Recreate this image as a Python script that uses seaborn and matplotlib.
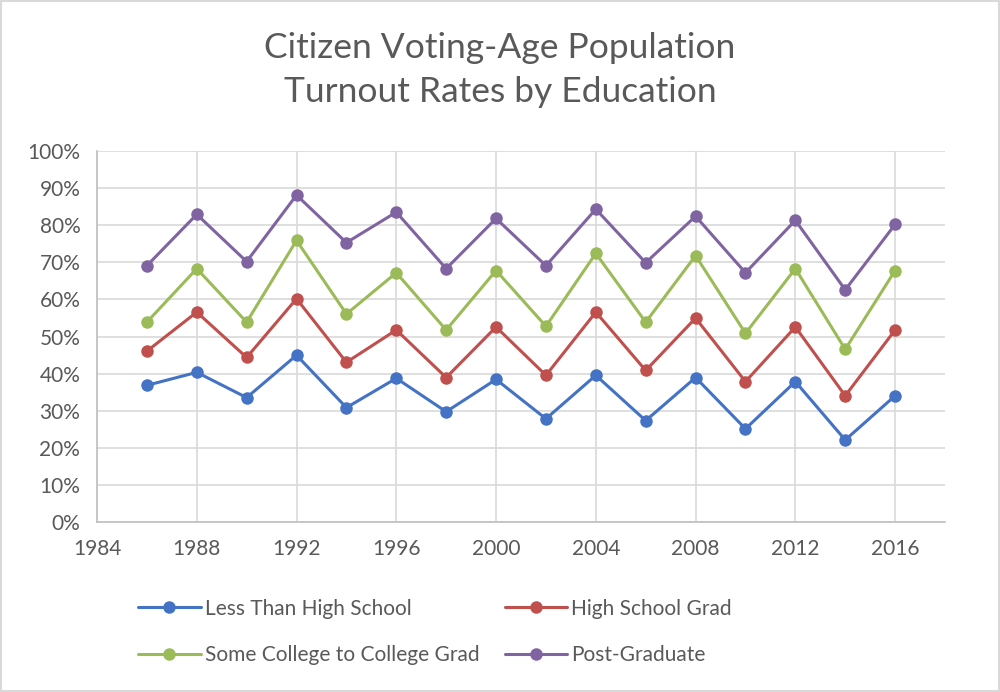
import matplotlib
matplotlib.use("Agg")
import matplotlib.pyplot as plt
import matplotlib.ticker as mticker
import seaborn as sns
import pandas as pd

# data (percent)
years = [1986, 1988, 1990, 1992, 1994, 1996, 1998, 2000,
         2002, 2004, 2006, 2008, 2010, 2012, 2014, 2016]
less_than_hs = [36.9, 40.4, 33.6, 45.0, 30.9, 38.8, 29.8, 38.5,
                27.9, 39.6, 27.4, 39.0, 25.2, 37.9, 22.2, 34.1]
hs_grad = [46.1, 56.6, 44.4, 60.2, 43.1, 51.8, 39.0, 52.6,
           39.6, 56.6, 40.9, 55.0, 37.9, 52.6, 34.1, 51.8]
some_college = [53.9, 68.3, 53.9, 75.9, 56.1, 67.2, 51.8, 67.8,
                52.8, 72.4, 53.9, 71.8, 50.9, 68.3, 46.6, 67.8]
post_grad = [69.1, 82.9, 70.2, 88.1, 75.3, 83.5, 68.3, 81.8,
             69.1, 84.3, 69.9, 82.4, 67.2, 81.3, 62.6, 80.2]

series_names = ["Less Than High School", "High School Grad",
                "Some College to College Grad", "Post-Graduate"]
series_values = [less_than_hs, hs_grad, some_college, post_grad]
colors = ["#4472C4", "#C0504D", "#9BBB59", "#8064A2"]

rows = []
for name, vals in zip(series_names, series_values):
    for y, v in zip(years, vals):
        rows.append({"Year": y, "Rate": v / 100, "Group": name})
df = pd.DataFrame(rows)

sns.set_style("white")
plt.rcParams["font.family"] = ["Lato", "DejaVu Sans"]
text_color = "#595959"

fig = plt.figure(figsize=(10, 6.92), dpi=100)
ax = fig.add_axes([0.097, 0.245, 0.848, 0.537])

sns.lineplot(data=df, x="Year", y="Rate", hue="Group", hue_order=series_names,
             palette=colors, marker="o", markersize=9, markeredgewidth=0,
             linewidth=2.2, ax=ax, legend=False)

ax.set_xlim(1984, 2018)
ax.set_ylim(0, 1)
ax.xaxis.set_major_locator(mticker.FixedLocator(range(1984, 2017, 4)))
ax.yaxis.set_major_locator(mticker.MultipleLocator(0.1))
ax.yaxis.set_major_formatter(mticker.PercentFormatter(1.0, decimals=0))
ax.grid(True, color="#D9D9D9", linewidth=1.2)
ax.set_axisbelow(True)
for side in ["top", "right"]:
    ax.spines[side].set_visible(False)
for side in ["left", "bottom"]:
    ax.spines[side].set_color("#BFBFBF")
    ax.spines[side].set_linewidth(1.2)
ax.tick_params(axis="both", length=0, labelsize=15, labelcolor=text_color, pad=12)
ax.set_xlabel("")
ax.set_ylabel("")

fig.text(0.5, 0.899, "Citizen Voting-Age Population\nTurnout Rates by Education",
         ha="center", va="center", fontsize=25.5, color=text_color,
         linespacing=1.45)

handles = [plt.Line2D([], [], color=c, marker="o", markersize=9,
                      markeredgewidth=0, linewidth=2.2) for c in colors]
order = [0, 2, 1, 3]
fig.legend([handles[i] for i in order], [series_names[i] for i in order],
           loc="center", bbox_to_anchor=(0.435, 0.087), ncol=2, frameon=False,
           fontsize=15, labelcolor=text_color, handlelength=3.0,
           handletextpad=0.2, columnspacing=1.2, labelspacing=1.25)

fig.patches.append(plt.Rectangle((0.001, 0.001), 0.998, 0.998, fill=False,
                                 edgecolor="#D9D9D9", linewidth=1.5,
                                 transform=fig.transFigure, figure=fig))

fig.savefig("out.png", dpi=100)
